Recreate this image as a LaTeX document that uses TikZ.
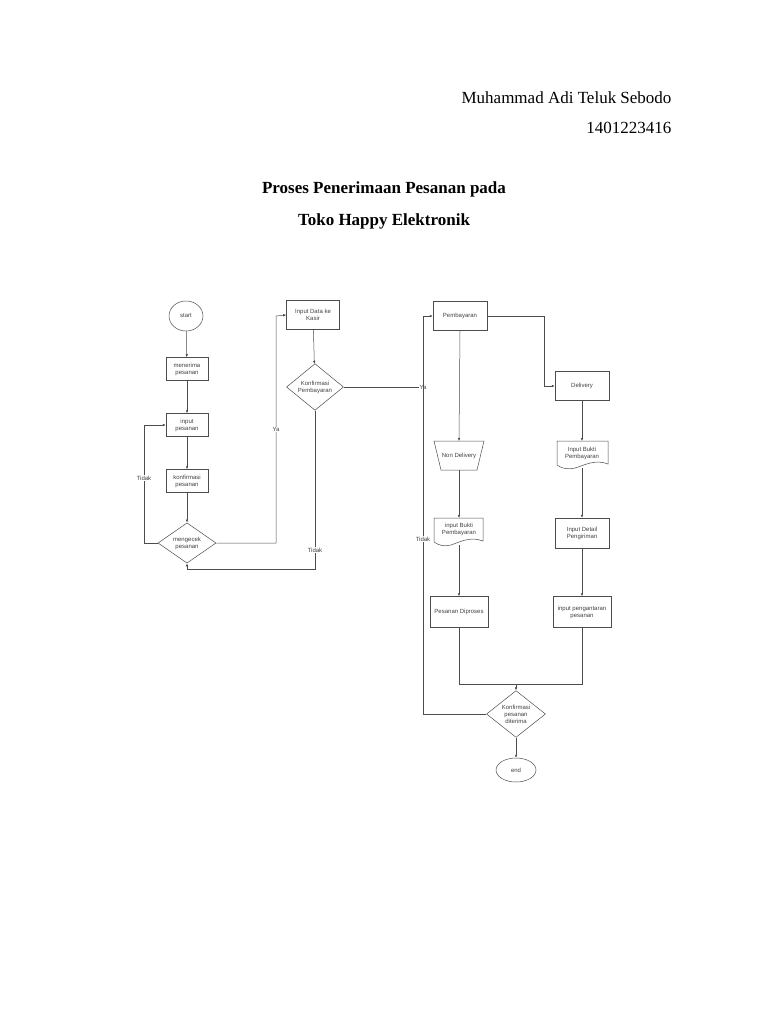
\documentclass[tikz,border=0pt]{standalone}
\usepackage{fontspec}
\setmainfont{Liberation Serif}
\newfontfamily\fsans{Liberation Sans}
\usetikzlibrary{shapes.geometric,arrows.meta}
\begin{document}
\begin{tikzpicture}[x=1pt,y=-1pt,
 line/.style={draw=black!70,line width=0.5pt},
 arr/.style={line,-{Latex[length=3pt,width=2.5pt]}},
 lbl/.style={font=\fsans\fontsize{6}{7}\selectfont,text=black!75,align=center,inner sep=0},
 box/.style={line,lbl,rectangle,minimum width=#1},
 dia/.style={line,lbl,diamond,aspect=2,inner sep=0.5pt},
 plain/.style={lbl,fill=white,inner sep=0.5pt}]
\useasboundingbox (0,0) rectangle (768,1024);
\node[anchor=east,font=\fontsize{17}{20}\selectfont] (au) at (675,98) {Muhammad Adi Teluk Sebodo};
\node[anchor=east,font=\fontsize{17}{20}\selectfont] (nim) at (675,128) {1401223416};
\node[font=\bfseries\fontsize{17}{20}\selectfont] (t1) at (384,189) {Proses Penerimaan Pesanan pada};
\node[font=\bfseries\fontsize{17}{20}\selectfont] (t2) at (384,221) {Toko Happy Elektronik};
% left column
\node[line,lbl,ellipse,minimum width=34,minimum height=30] (st) at (186,316) {start};
\node[line,lbl,minimum width=42,minimum height=23] (m1) at (187,369) {menerima\\pesanan};
\node[line,lbl,minimum width=42,minimum height=23] (m2) at (187,425) {input\\pesanan};
\node[line,lbl,minimum width=42,minimum height=23] (m3) at (187,481) {konfirmasi\\pesanan};
\node[line,lbl,diamond,minimum width=58,minimum height=30,inner sep=0] (d1) at (187,543) {mengecek\\pesanan};
\node[line,lbl,minimum width=53,minimum height=29] (k1) at (313,315) {Input Data ke\\Kasir};
\node[line,lbl,diamond,minimum width=57,minimum height=29,inner sep=0] (d2) at (315,387) {Konfirmasi\\Pembayaran};
\draw[arr] (st) -- (m1);
\draw[arr] (m1) -- (m2);
\draw[arr] (m2) -- (m3);
\draw[arr] (m3) -- (d1);
\draw[arr] (d1.west) -- (144,543) -- node[plain,pos=0.55] {Tidak} (144,425) -- (m2.west);
\draw[arr] (d1.east) -- (276,543) -- node[plain] {Ya} (276,316) -- (k1.west);
\draw[arr] (k1) -- (d2);
\draw[arr] (d2.south) -- node[plain,pos=0.88] {Tidak} (315,569) -- (187,569) -- (d1.south);
% right part
\node[line,lbl,minimum width=54,minimum height=29] (pb) at (460,316) {Pembayaran};
\node[line,lbl,minimum width=54,minimum height=29] (dv) at (582,386) {Delivery};
\node[lbl,minimum width=50,minimum height=29] (nd) at (459,456) {Non Delivery};
\draw[line] (434,441) -- (484,441) -- (477,470) -- (441,470) -- cycle;
\node[lbl,minimum width=49,minimum height=27] (b1) at (459,529) {input Bukti\\Pembayaran};
\draw[line] (434,518) -- (483,518) -- (483,541) .. controls (470,536) and (460,542) .. (451,545) .. controls (444,547) and (438,545) .. (434,542) -- cycle;
\node[lbl,minimum width=51,minimum height=27] (b2) at (582,453) {Input Bukti\\Pembayaran};
\draw[line] (557,441) -- (608,441) -- (608,464) .. controls (595,459) and (585,465) .. (575,468) .. controls (567,470) and (561,468) .. (557,465) -- cycle;
\node[line,lbl,minimum width=54,minimum height=30] (dp) at (582,533) {Input Detail\\Pengiriman};
\node[line,lbl,minimum width=58,minimum height=31] (pd) at (459,612) {Pesanan Diproses};
\node[line,lbl,minimum width=58,minimum height=31] (ip) at (582,612) {input pengantaran\\pesanan};
\node[line,lbl,diamond,minimum width=59,minimum height=36,inner sep=0] (d3) at (516,714) {Konfirmasi\\pesanan\\diterima};
\node[line,lbl,ellipse,minimum width=40,minimum height=24] (en) at (516,770) {end};
\coordinate (j) at (516,684);
\draw[arr] (d2.east) -- node[plain,pos=1] {Ya} (423,387);
\draw[arr] (d3.west) -- (423,714) -- node[plain,pos=0.44] {Tidak} (423,316) -- (pb.west);
\draw[arr] (pb.east) -- (544,316) -- (544,386) -- (dv.west);
\draw[arr] (pb.south) -- (459,441);
\draw[arr] (459,470) -- (459,518);
\draw[arr] (459,545) -- (pd.north);
\draw[arr] (dv.south) -- (582,441);
\draw[arr] (582,468) -- (dp.north);
\draw[arr] (dp) -- (ip);
\draw[line] (pd.south) -- (459,684) -- (582,684) -- (ip.south);
\draw[arr] (j) -- (d3.north);
\draw[arr] (d3.south) -- (en);
\end{tikzpicture}
\end{document}
